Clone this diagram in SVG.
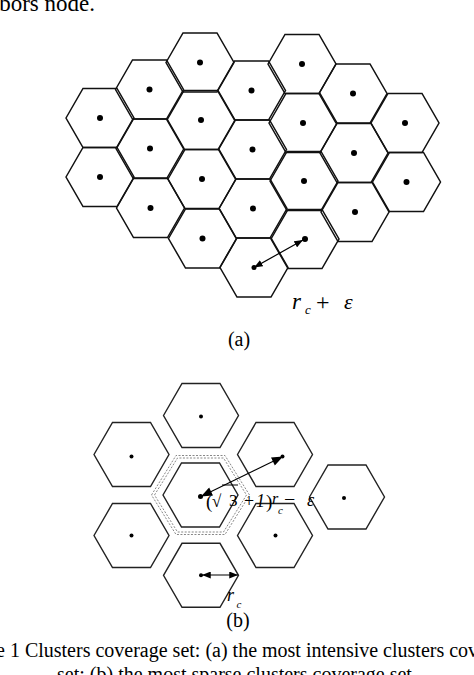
<svg xmlns="http://www.w3.org/2000/svg" xmlns:xlink="http://www.w3.org/1999/xlink" width="474" height="675" viewBox="0 0 474 675">
<style>
.hexa{fill:none;stroke:#111;stroke-width:1.5;stroke-linejoin:miter}
.hexb{fill:none;stroke:#222;stroke-width:1.4}
.ring{fill:none;stroke:#888;stroke-width:1;stroke-dasharray:2 1.5}
.dota{fill:#000}
.dotb{fill:#000}
.txt{font-family:"Liberation Serif","Times New Roman",serif;fill:#000}
.it{font-style:italic}
.arr{stroke:#000;stroke-width:1.2;fill:none}
</style>
<defs>
<polygon id="hA" points="-34,0 -17,-29.5 17,-29.5 34,0 17,29.5 -17,29.5"/>
<polygon id="hB" points="-37.5,0 -19,-32 19,-32 37.5,0 19,32 -19,32"/>
<marker id="mA" viewBox="0 0 10 8" refX="10" refY="4" markerWidth="9" markerHeight="7" markerUnits="userSpaceOnUse" orient="auto-start-reverse"><path d="M0,0 L10,4 L0,8 z" fill="#000"/></marker>
<marker id="mB" viewBox="0 0 10 8" refX="10" refY="4" markerWidth="12" markerHeight="9" markerUnits="userSpaceOnUse" orient="auto-start-reverse"><path d="M0,0 L10,4 L0,8 z" fill="#000"/></marker>
<marker id="mC" viewBox="0 0 10 8" refX="10" refY="4" markerWidth="10" markerHeight="7" markerUnits="userSpaceOnUse" orient="auto-start-reverse"><path d="M0,0 L10,4 L0,8 z" fill="#000"/></marker>
</defs>
<rect width="474" height="675" fill="#fff"/>
<text class="txt" x="95" y="11" font-size="23" text-anchor="end">bors node.</text>

<g id="part-a">
<g id="a-c1-1" transform="translate(100,118)"><use href="#hA" class="hexa"/><circle r="3" class="dota"/></g>
<g id="a-c1-2" transform="translate(100,177)"><use href="#hA" class="hexa"/><circle r="3" class="dota"/></g>
<g id="a-c2-1" transform="translate(149.5,89.5)"><use href="#hA" class="hexa"/><circle r="3" class="dota"/></g>
<g id="a-c2-2" transform="translate(150,148.5)"><use href="#hA" class="hexa"/><circle r="3" class="dota"/></g>
<g id="a-c2-3" transform="translate(150.5,208)"><use href="#hA" class="hexa"/><circle r="3" class="dota"/></g>
<g id="a-c3-1" transform="translate(200,62.5)"><use href="#hA" class="hexa"/><circle r="3" class="dota"/></g>
<g id="a-c3-2" transform="translate(201,120)"><use href="#hA" class="hexa"/><circle r="3" class="dota"/></g>
<g id="a-c3-3" transform="translate(202,179)"><use href="#hA" class="hexa"/><circle r="3" class="dota"/></g>
<g id="a-c3-4" transform="translate(202.5,238.5)"><use href="#hA" class="hexa"/><circle r="3" class="dota"/></g>
<g id="a-c4-1" transform="translate(251.5,90.5)"><use href="#hA" class="hexa"/><circle r="3" class="dota"/></g>
<g id="a-c4-2" transform="translate(252.5,149.5)"><use href="#hA" class="hexa"/><circle r="3" class="dota"/></g>
<g id="a-c4-3" transform="translate(253,208.5)"><use href="#hA" class="hexa"/><circle r="3" class="dota"/></g>
<g id="a-c4-4" transform="translate(254,267.5)"><use href="#hA" class="hexa"/><circle r="2.5" class="dota"/></g>
<g id="a-c5-1" transform="translate(302,64)"><use href="#hA" class="hexa"/><circle r="3" class="dota"/></g>
<g id="a-c5-2" transform="translate(303,123)"><use href="#hA" class="hexa"/><circle r="3" class="dota"/></g>
<g id="a-c5-3" transform="translate(304,181)"><use href="#hA" class="hexa"/><circle r="3" class="dota"/></g>
<g id="a-c5-4" transform="translate(305,239)"><use href="#hA" class="hexa"/><circle r="3" class="dota"/></g>
<g id="a-c6-1" transform="translate(353,93.5)"><use href="#hA" class="hexa"/><circle r="3" class="dota"/></g>
<g id="a-c6-2" transform="translate(354,153)"><use href="#hA" class="hexa"/><circle r="3" class="dota"/></g>
<g id="a-c6-3" transform="translate(355,212)"><use href="#hA" class="hexa"/><circle r="3" class="dota"/></g>
<g id="a-c7-1" transform="translate(405,123)"><use href="#hA" class="hexa"/><circle r="3" class="dota"/></g>
<g id="a-c7-2" transform="translate(406.5,182)"><use href="#hA" class="hexa"/><circle r="3" class="dota"/></g>
</g>

<g id="part-b">
<g id="b-top" transform="translate(201,415.5)"><use href="#hB" class="hexb"/><circle r="2" class="dotb" cy="1"/></g>
<g id="b-ul" transform="translate(131.5,454.5)"><use href="#hB" class="hexb"/><circle r="2" class="dotb" cy="2"/></g>
<g id="b-ur" transform="translate(275,454.5)"><use href="#hB" class="hexb"/><circle r="2" class="dotb" cx="7.5" cy="2"/></g>
<g id="b-center" transform="translate(200.5,495)">
<polygon class="ring" points="-49,0 -24.5,-39.5 24.5,-39.5 49,0 24.5,39.5 -24.5,39.5"/>
<polygon class="ring" points="-46,0 -23,-37 23,-37 46,0 23,37 -23,37"/>
<use href="#hB" class="hexb"/><circle r="2.5" class="dotb" cy="1.5"/></g>
<g id="b-right" transform="translate(347,497)"><use href="#hB" class="hexb"/><circle r="2" class="dotb" cx="-3" cy="1"/></g>
<g id="b-ll" transform="translate(131.5,535.5)"><use href="#hB" class="hexb"/><circle r="2" class="dotb"/></g>
<g id="b-lr" transform="translate(275,535.5)"><use href="#hB" class="hexb"/><circle r="2" class="dotb" cx="0.5"/></g>
<g id="b-bottom" transform="translate(201,575.3)"><use href="#hB" class="hexb"/><circle r="2" class="dotb"/></g>
</g>

<g id="connectors">
<line class="arr" x1="254" y1="267.5" x2="303" y2="240" marker-start="url(#mA)" marker-end="url(#mA)"/>
<line class="arr" x1="201" y1="496.5" x2="283" y2="456.5" marker-start="url(#mB)" marker-end="url(#mB)"/>
<line class="arr" x1="202" y1="575" x2="238" y2="575" marker-start="url(#mC)" marker-end="url(#mC)"/>
</g>

<g id="labels">
<text class="txt it" x="292" y="309" font-size="23">r</text>
<text class="txt it" x="305" y="314" font-size="13">c</text>
<text class="txt" x="316" y="310" font-size="24">+</text>
<text class="txt it" x="344" y="309" font-size="22">ε</text>
<text class="txt" x="239" y="346" font-size="20" text-anchor="middle">(a)</text>

<text class="txt" x="206" y="508" font-size="19">(</text>
<text class="txt" x="212" y="507" font-size="17">√</text>
<line x1="222" y1="485" x2="238" y2="485" stroke="#000" stroke-width="1"/>
<text class="txt" x="229" y="506" font-size="17">3</text>
<text class="txt" x="244" y="507" font-size="18">+</text>
<text class="txt it" x="256" y="507" font-size="18">1</text>
<text class="txt" x="266" y="508" font-size="19">)</text>
<text class="txt it" x="272" y="504" font-size="16">r</text>
<text class="txt it" x="278" y="514" font-size="11">c</text>
<text class="txt" x="284" y="506" font-size="20">−</text>
<text class="txt it" x="307" y="506" font-size="18">ε</text>

<text class="txt it" x="227" y="601" font-size="18">r</text>
<text class="txt it" x="236.5" y="608" font-size="11">c</text>
<text class="txt" x="238" y="627" font-size="20" text-anchor="middle">(b)</text>
</g>

<text class="txt" x="-4" y="657" font-size="20">e 1 Clusters coverage set: (a) the most intensive clusters cov</text>
<text class="txt" x="237" y="680.5" font-size="20" text-anchor="middle">set: (b) the most sparse clusters coverage set.</text>
</svg>
